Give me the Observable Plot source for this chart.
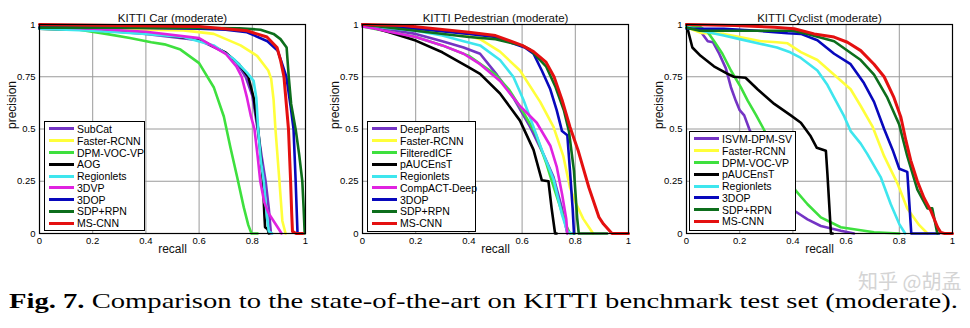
<!DOCTYPE html>
<html><head><meta charset="utf-8">
<script src="https://cdn.jsdelivr.net/npm/d3@7"></script>
<script src="https://cdn.jsdelivr.net/npm/@observablehq/plot@0.6"></script>
<style>
html,body{margin:0;padding:0;background:#fff}
body{width:970px;height:328px;overflow:hidden;position:relative;font-family:"Liberation Sans",Arial,sans-serif}
.panel{position:absolute;top:0;width:323px;height:265px}
.legend{position:absolute;background:#fff;border:1px solid #000;box-sizing:border-box;font-size:10.5px;color:#000;padding-top:1px}
.row{display:flex;align-items:center;height:11.8px;white-space:nowrap}
.sw{width:25px;height:3px;margin:0 3px 0 4px;flex:none}
#caption{position:absolute;left:0;top:265px}
</style>
</head><body>
<div id="p0" class="panel" style="left:0px"></div>
<div id="p1" class="panel" style="left:323px"></div>
<div id="p2" class="panel" style="left:646px"></div>
<svg id="caption" width="970" height="63"></svg>
<script>
// ---- tick labels ----
const xTicks = [0, 0.2, 0.4, 0.6, 0.8, 1];
const yTicks = [0, 0.25, 0.5, 0.75, 1];
const titles = ["KITTI Car (moderate)", "KITTI Pedestrian (moderate)", "KITTI Cyclist (moderate)"];

// ---- series colours ----
const cPurple = "#7434c4", cYellow = "#ffff3a", cGreen = "#3ee03e", cBlack = "#000000",
      cCyan = "#3ee6ee", cMagenta = "#e022e0", cBlue = "#0808bc", cDkGreen = "#0d6e1c", cRed = "#e41010";

// ---- KITTI Car: [recall, precision] ----
const carSubCat = [[0,0.98],[0.2,0.975],[0.4,0.955],[0.6,0.925],[0.7,0.865],[0.74,0.82],[0.775,0.75],[0.8,0.66],[0.82,0.5],[0.835,0.37],[0.85,0.25],[0.862,0.12],[0.87,0]];
const carFaster = [[0,0.99],[0.2,0.985],[0.4,0.975],[0.541,0.972],[0.655,0.955],[0.756,0.9],[0.818,0.85],[0.86,0.78],[0.871,0.74],[0.88,0.64],[0.887,0.5],[0.902,0.25],[0.913,0.06],[0.925,0]];
const carDPM = [[0,0.98],[0.15,0.975],[0.25,0.955],[0.34,0.935],[0.42,0.915],[0.47,0.905],[0.53,0.88],[0.6,0.815],[0.655,0.70],[0.693,0.56],[0.718,0.41],[0.743,0.27],[0.768,0.125],[0.785,0.04],[0.797,0],[0.82,0]];
const carAOG = [[0,0.98],[0.2,0.975],[0.4,0.96],[0.6,0.93],[0.7,0.865],[0.75,0.81],[0.785,0.75],[0.805,0.65],[0.822,0.5],[0.833,0.35],[0.84,0.25],[0.845,0.1],[0.848,0.03],[0.858,0.02],[0.862,0]];
const carRegionlets = [[0,0.98],[0.2,0.97],[0.4,0.955],[0.541,0.94],[0.655,0.9],[0.73,0.835],[0.78,0.77],[0.805,0.73],[0.815,0.65],[0.822,0.5],[0.832,0.35],[0.843,0.25],[0.855,0.08],[0.862,0.01],[0.875,0]];
const car3DVP = [[0,0.99],[0.2,0.98],[0.4,0.965],[0.6,0.935],[0.7,0.86],[0.74,0.8],[0.76,0.75],[0.78,0.65],[0.795,0.56],[0.808,0.5],[0.82,0.37],[0.83,0.25],[0.845,0.15],[0.86,0.1],[0.88,0.06],[0.9,0.02],[0.91,0]];
const car3DOP = [[0,0.985],[0.3,0.985],[0.6,0.98],[0.7,0.975],[0.78,0.963],[0.857,0.92],[0.895,0.876],[0.91,0.82],[0.928,0.75],[0.945,0.6],[0.955,0.5],[0.963,0.25],[0.97,0]];
const carSDP = [[0,0.985],[0.4,0.985],[0.75,0.982],[0.831,0.975],[0.88,0.955],[0.906,0.93],[0.929,0.89],[0.937,0.75],[0.946,0.62],[0.964,0.49],[0.976,0.38],[0.988,0.25],[0.993,0.12],[0.997,0]];
const carMS = [[0,1],[0.3,0.995],[0.6,0.99],[0.78,0.97],[0.855,0.94],[0.893,0.89],[0.906,0.83],[0.919,0.75],[0.936,0.5],[0.944,0.25],[0.948,0.1],[0.951,0.01],[0.965,0],[0.99,0]];

// ---- KITTI Pedestrian ----
const pedDeepParts = [[0,1],[0.1,0.975],[0.2,0.955],[0.3,0.92],[0.38,0.89],[0.442,0.86],[0.505,0.76],[0.567,0.65],[0.63,0.51],[0.68,0.38],[0.718,0.27],[0.75,0.12],[0.77,0]];
const pedFaster = [[0,1],[0.2,0.987],[0.35,0.965],[0.442,0.93],[0.517,0.87],[0.592,0.78],[0.668,0.63],[0.718,0.51],[0.755,0.37],[0.78,0.22],[0.8,0.15],[0.83,0.07],[0.867,0]];
const pedFilteredICF = [[0,0.99],[0.2,0.94],[0.3,0.9],[0.4,0.85],[0.5,0.76],[0.55,0.69],[0.6,0.59],[0.65,0.48],[0.69,0.34],[0.712,0.25],[0.74,0.14],[0.765,0.04],[0.78,0],[0.8,0]];
const pedPAUC = [[0,1],[0.1,0.963],[0.2,0.923],[0.3,0.867],[0.4,0.795],[0.442,0.764],[0.517,0.67],[0.592,0.54],[0.643,0.40],[0.674,0.255],[0.699,0.25],[0.711,0.12],[0.724,0],[0.73,0]];
const pedRegionlets = [[0,0.995],[0.2,0.97],[0.3,0.947],[0.38,0.92],[0.442,0.9],[0.517,0.83],[0.567,0.75],[0.605,0.64],[0.643,0.51],[0.68,0.38],[0.718,0.26],[0.75,0.09],[0.77,0.01],[0.785,0]];
const pedCompACT = [[0,0.99],[0.05,0.98],[0.1,0.965],[0.2,0.94],[0.3,0.9],[0.38,0.86],[0.442,0.81],[0.517,0.73],[0.592,0.61],[0.655,0.53],[0.706,0.42],[0.73,0.32],[0.75,0.19],[0.766,0.07],[0.77,0]];
const ped3DOP = [[0,1],[0.2,0.98],[0.4,0.955],[0.5,0.94],[0.61,0.89],[0.643,0.86],[0.674,0.78],[0.706,0.69],[0.73,0.59],[0.75,0.49],[0.77,0.47],[0.78,0.3],[0.79,0.12],[0.795,0]];
const pedSDP = [[0,1],[0.2,0.97],[0.4,0.94],[0.5,0.93],[0.6,0.9],[0.63,0.88],[0.69,0.8],[0.726,0.7],[0.757,0.59],[0.776,0.49],[0.795,0.3],[0.807,0.075],[0.813,0],[0.92,0]];
const pedMS = [[0,1],[0.154,0.995],[0.4,0.963],[0.5,0.947],[0.6,0.9],[0.643,0.87],[0.69,0.82],[0.72,0.75],[0.75,0.64],[0.78,0.51],[0.81,0.4],[0.851,0.22],[0.889,0.078],[0.906,0.045],[0.938,0],[1,0]];

// ---- KITTI Cyclist ----
const cycISVM = [[0,1],[0.03,0.99],[0.06,0.955],[0.08,0.92],[0.1,0.915],[0.123,0.86],[0.148,0.79],[0.167,0.7],[0.185,0.636],[0.2,0.59],[0.217,0.565],[0.236,0.5],[0.26,0.43],[0.3,0.32],[0.35,0.2],[0.404,0.11],[0.455,0.068],[0.505,0.036],[0.58,0.013],[0.63,0]];
const cycFaster = [[0,0.987],[0.054,0.96],[0.14,0.955],[0.2,0.94],[0.28,0.92],[0.34,0.915],[0.38,0.91],[0.43,0.868],[0.492,0.83],[0.555,0.76],[0.617,0.69],[0.655,0.61],[0.7,0.51],[0.743,0.37],[0.793,0.24],[0.83,0.12],[0.875,0.04],[0.906,0]];
const cycDPM = [[0,0.99],[0.054,0.987],[0.08,0.963],[0.104,0.92],[0.135,0.86],[0.167,0.78],[0.204,0.7],[0.23,0.636],[0.26,0.57],[0.29,0.5],[0.32,0.42],[0.36,0.32],[0.41,0.206],[0.455,0.14],[0.505,0.077],[0.58,0.03],[0.705,0.006],[0.8,0]];
const cycPAUC = [[0,1],[0.022,0.89],[0.053,0.85],[0.103,0.8],[0.153,0.765],[0.178,0.75],[0.222,0.745],[0.267,0.69],[0.33,0.62],[0.392,0.565],[0.43,0.53],[0.467,0.465],[0.49,0.41],[0.524,0.396],[0.53,0.28],[0.543,0],[0.55,0]];
const cycRegionlets = [[0,0.99],[0.054,0.97],[0.14,0.947],[0.2,0.93],[0.28,0.907],[0.34,0.89],[0.39,0.867],[0.43,0.84],[0.492,0.78],[0.53,0.71],[0.555,0.65],[0.593,0.56],[0.617,0.49],[0.655,0.43],[0.68,0.38],[0.73,0.27],[0.768,0.14],[0.8,0.045],[0.822,0]];
const cyc3DOP = [[0,0.98],[0.14,0.98],[0.267,0.97],[0.38,0.958],[0.43,0.955],[0.492,0.925],[0.555,0.86],[0.617,0.81],[0.667,0.72],[0.705,0.63],[0.743,0.5],[0.775,0.4],[0.8,0.31],[0.83,0.295],[0.84,0.1],[0.845,0],[0.95,0]];
const cycSDP = [[0,0.985],[0.05,0.97],[0.4,0.97],[0.455,0.955],[0.555,0.92],[0.655,0.83],[0.705,0.76],[0.755,0.65],[0.8,0.52],[0.83,0.37],[0.868,0.21],[0.906,0.12],[0.924,0.12],[0.943,0]];
const cycMS = [[0,1],[0.18,0.995],[0.33,0.987],[0.405,0.98],[0.48,0.955],[0.555,0.94],[0.605,0.915],[0.655,0.875],[0.705,0.81],[0.743,0.75],[0.78,0.65],[0.806,0.556],[0.825,0.444],[0.843,0.35],[0.868,0.25],[0.893,0.17],[0.918,0.11],[0.944,0.03],[0.956,0.005],[0.97,0],[1,0]];

// ---- legends ----
const carNames = ["SubCat","Faster-RCNN","DPM-VOC-VP","AOG","Regionlets","3DVP","3DOP","SDP+RPN","MS-CNN"];
const carColors = [cPurple,cYellow,cGreen,cBlack,cCyan,cMagenta,cBlue,cDkGreen,cRed];
const carSeries = [carSubCat,carFaster,carDPM,carAOG,carRegionlets,car3DVP,car3DOP,carSDP,carMS];

const pedNames = ["DeepParts","Faster-RCNN","FilteredICF","pAUCEnsT","Regionlets","CompACT-Deep","3DOP","SDP+RPN","MS-CNN"];
const pedColors = [cPurple,cYellow,cGreen,cBlack,cCyan,cMagenta,cBlue,cDkGreen,cRed];
const pedSeries = [pedDeepParts,pedFaster,pedFilteredICF,pedPAUC,pedRegionlets,pedCompACT,ped3DOP,pedSDP,pedMS];

const cycNames = ["ISVM-DPM-SV","Faster-RCNN","DPM-VOC-VP","pAUCEnsT","Regionlets","3DOP","SDP+RPN","MS-CNN"];
const cycColors = [cPurple,cYellow,cGreen,cBlack,cCyan,cBlue,cDkGreen,cRed];
const cycSeries = [cycISVM,cycFaster,cycDPM,cycPAUC,cycRegionlets,cyc3DOP,cycSDP,cycMS];

const panels = [
  {id:"p0", title:titles[0], names:carNames, colors:carColors, series:carSeries, ml:39, mr:18, leg:{left:44, top:121, width:101, height:110}},
  {id:"p1", title:titles[1], names:pedNames, colors:pedColors, series:pedSeries, ml:39, mr:18, leg:{left:44, top:121, width:109, height:111}},
  {id:"p2", title:titles[2], names:cycNames, colors:cycColors, series:cycSeries, ml:40, mr:17, leg:{left:43, top:131, width:107, height:100}}
];

const fmt = d => String(d);
const sans = "'Liberation Sans', Arial, sans-serif";

for (const P of panels) {
  const lines = P.series.map((s, i) =>
    Plot.line(s, {x: d => d[0], y: d => d[1], stroke: P.colors[i],
      strokeWidth: P.names[i] === "MS-CNN" ? 3 : 2.6, strokeLinejoin: "round", curve: "linear"}));
  const chart = Plot.plot({
    width: 323, height: 265,
    marginLeft: P.ml, marginRight: P.mr, marginTop: 24, marginBottom: 32,
    style: {fontFamily: sans, background: "#fff", overflow: "visible"},
    x: {domain: [0, 1], ticks: xTicks, tickFormat: fmt, label: null},
    y: {domain: [0, 1], ticks: yTicks, tickFormat: fmt, label: null},
    marks: [
      Plot.gridX(xTicks, {stroke: "#9a9a9a", strokeOpacity: 1, strokeWidth: 1}),
      Plot.gridY(yTicks, {stroke: "#9a9a9a", strokeOpacity: 1, strokeWidth: 1}),
      ...lines,
      Plot.frame({stroke: "#000", strokeWidth: 1.2}),
      Plot.axisX(xTicks, {tickSize: 0, tickPadding: 4, fontSize: 9.5, tickFormat: fmt, label: null}),
      Plot.axisY(yTicks, {tickSize: 0, tickPadding: 4, fontSize: 9.5, tickFormat: fmt, label: null}),
      Plot.text([P.title], {frameAnchor: "top", dy: -11, fontSize: 11.5, fill: "#111"}),
      Plot.text(["recall"], {frameAnchor: "bottom", dy: 19, fontSize: 12, fill: "#111"}),
      Plot.text(["precision"], {frameAnchor: "left", dx: -27, rotate: -90, fontSize: 12, fill: "#111"})
    ]
  });
  const host = document.getElementById(P.id);
  host.appendChild(chart);
  const leg = document.createElement("div");
  leg.className = "legend";
  Object.assign(leg.style, {left: P.leg.left + "px", top: P.leg.top + "px", width: P.leg.width + "px", height: P.leg.height + "px"});
  P.names.forEach((n, i) => {
    const row = document.createElement("div");
    row.className = "row";
    const sw = document.createElement("span");
    sw.className = "sw";
    sw.style.background = P.colors[i];
    const t = document.createElement("span");
    t.textContent = n;
    row.appendChild(sw); row.appendChild(t);
    leg.appendChild(row);
  });
  host.appendChild(leg);
}

// ---- caption ----
const captionBold = "Fig. 7.";
const captionText = " Comparison to the state-of-the-art on KITTI benchmark test set (moderate).";
const watermark = "知乎 @胡孟";
const cap = d3.select("#caption");
cap.append("text").attr("x", 858).attr("y", 24)
  .attr("font-family", "'Noto Sans CJK SC', sans-serif").attr("font-size", 20)
  .attr("fill", "#d4d4d4").text(watermark);
const t = cap.append("text").attr("x", 9).attr("y", 43)
  .attr("font-family", "'Liberation Serif', serif").attr("font-size", 22)
  .attr("fill", "#000").attr("textLength", 949).attr("lengthAdjust", "spacingAndGlyphs");
t.append("tspan").attr("font-weight", "bold").text(captionBold);
t.append("tspan").text(captionText);
</script>
</body></html>
